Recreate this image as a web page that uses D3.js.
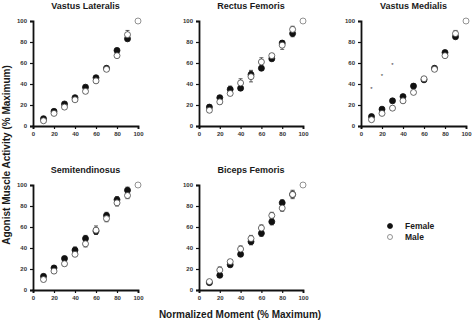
<!DOCTYPE html>
<html><head><meta charset="utf-8">
<script src="https://cdn.jsdelivr.net/npm/d3@7"></script>
<style>body{margin:0;background:#fff}svg{display:block}</style>
</head><body>
<svg id="c" width="474" height="322"></svg>
<script>
const moments = [10,20,30,40,50,60,70,80,90];
const muscles = ["Vastus Lateralis","Rectus Femoris","Vastus Medialis","Semitendinosus","Biceps Femoris"];
const femaleVL = [7,14,21,27,37,46,55,72,83];
const maleVL   = [5,12,18,25,33,43,54,67,87];
const femaleVLerr = [1.5,1.5,1.5,1.5,2,2,2,2,2];
const maleVLerr   = [1.5,1.5,1.5,1.5,2,2,2,2,4];
const femaleRF = [18,27,35,36,49,55,64,79,88];
const maleRF   = [15,23,31,41,47,61,67,77,92];
const femaleRFerr = [2,2,3,2,4,2,2,2,3];
const maleRFerr   = [2,2,2,4,5,4,2,4,3];
const femaleVM = [9,16,24,28,38,44,55,70,85];
const maleVM   = [6,12,17,24,32,45,54,67,88];
const femaleVMerr = [2,2,2,2,2,2,2,2,2];
const maleVMerr   = [1.5,1.5,1.5,2,2,2,2,2,3];
const femaleST = [13,21,30,38,49,56,71,86,95];
const maleST   = [10,18,25,34,44,57,68,83,90];
const femaleSTerr = [2,2,2,3,3,3,3,3,3];
const maleSTerr   = [2,2,2,2,3,4,3,3,3];
const femaleBF = [7,14,24,34,46,54,65,83,91];
const maleBF   = [8,19,27,39,49,59,71,78,91];
const femaleBFerr = [1.5,2,2,2,3,3,3,3,3];
const maleBFerr   = [1.5,3,2,3,3,3,3,3,4];
const maxPoint = [100,100];
const asteriskVM = [[10,36],[20,48],[30,59]];
const ticks = [0,20,40,60,80,100];
const legendLabels = ["Female","Male"];
const xTitle = "Normalized Moment (% Maximum)";
const yTitle = "Agonist Muscle Activity (% Maximum)";

const data = [
  {f:femaleVL,m:maleVL,fe:femaleVLerr,me:maleVLerr},
  {f:femaleRF,m:maleRF,fe:femaleRFerr,me:maleRFerr},
  {f:femaleVM,m:maleVM,fe:femaleVMerr,me:maleVMerr,ast:asteriskVM},
  {f:femaleST,m:maleST,fe:femaleSTerr,me:maleSTerr},
  {f:femaleBF,m:maleBF,fe:femaleBFerr,me:maleBFerr}
];
const layout = [
  {x0:33,x1:138,yt:21,yb:126},
  {x0:199,x1:303,yt:21,yb:126},
  {x0:361,x1:466,yt:21,yb:126},
  {x0:33,x1:138,yt:185,yb:290},
  {x0:199,x1:303,yt:185,yb:290}
];
const svg = d3.select("#c");
const font = "Liberation Sans, Arial, Helvetica, sans-serif";
const txt = "#1a1a1a";

muscles.forEach((name,i)=>{
  const L = layout[i], D = data[i];
  const x = d3.scaleLinear().domain([0,100]).range([L.x0,L.x1]);
  const y = d3.scaleLinear().domain([0,100]).range([L.yb,L.yt]);
  const g = svg.append("g");
  const xa = g.append("g").attr("transform",`translate(0,${L.yb})`)
    .call(d3.axisBottom(x).tickValues(ticks).tickSize(3).tickPadding(3));
  const ya = g.append("g").attr("transform",`translate(${L.x0},0)`)
    .call(d3.axisLeft(y).tickValues(ticks).tickSize(3).tickPadding(3));
  [xa,ya].forEach(a=>{
    a.select(".domain").attr("stroke","#111").attr("stroke-width",1.8);
    a.selectAll(".tick line").attr("stroke","#111").attr("stroke-width",1.2);
    a.selectAll(".tick text").attr("font-family",font).attr("font-size",6).attr("font-weight","bold").attr("fill","#333");
  });
  g.append("text").attr("x",(L.x0+L.x1)/2).attr("y",L.yt-12.5)
    .attr("text-anchor","middle").attr("font-family",font).attr("font-size",9)
    .attr("font-weight","bold").attr("fill",txt).text(name);
  const series = [{v:D.m,e:D.me,fill:"#fff",stroke:"#444"},{v:D.f,e:D.fe,fill:"#111",stroke:"#111"}];
  series.forEach(s=>{
    moments.forEach((mx,k)=>{
      const cx = x(mx), lo = y(s.v[k]-s.e[k]), hi = y(s.v[k]+s.e[k]);
      g.append("line").attr("x1",cx).attr("x2",cx).attr("y1",lo).attr("y2",hi).attr("stroke","#333").attr("stroke-width",0.8);
      [lo,hi].forEach(yy=>g.append("line").attr("x1",cx-2).attr("x2",cx+2).attr("y1",yy).attr("y2",yy).attr("stroke","#333").attr("stroke-width",0.8));
    });
  });
  [series[1],series[0]].forEach(s=>{
    g.selectAll(null).data(moments).join("circle")
      .attr("cx",d=>x(d)).attr("cy",(d,k)=>y(s.v[k])).attr("r",3)
      .attr("fill",s.fill).attr("stroke",s.stroke).attr("stroke-width",0.8);
  });
  g.append("circle").attr("cx",x(maxPoint[0])).attr("cy",y(maxPoint[1])).attr("r",3)
    .attr("fill","#fff").attr("stroke","#777").attr("stroke-width",0.8);
  if(D.ast){
    D.ast.forEach(a=>g.append("text").attr("x",x(a[0])).attr("y",y(a[1])+2.5)
      .attr("text-anchor","middle").attr("font-family",font).attr("font-size",6).attr("fill","#333").text("*"));
  }
});

const lg = svg.append("g");
legendLabels.forEach((t,i)=>{
  const yy = 226 + i*11;
  lg.append("circle").attr("cx",390).attr("cy",yy).attr("r",2.5)
    .attr("fill",i===0?"#111":"#fff").attr("stroke",i===0?"#111":"#777").attr("stroke-width",0.8);
  lg.append("text").attr("x",405).attr("y",yy+3).attr("font-family",font).attr("font-size",8.5)
    .attr("font-weight","bold").attr("fill",txt).text(t);
});

svg.append("text").attr("x",240).attr("y",318).attr("text-anchor","middle")
  .attr("font-family",font).attr("font-size",10).attr("font-weight","bold").attr("fill",txt).text(xTitle);
svg.append("text").attr("transform","translate(10,155) rotate(-90)").attr("text-anchor","middle")
  .attr("font-family",font).attr("font-size",10).attr("font-weight","bold").attr("fill",txt).text(yTitle);
</script>
</body></html>
